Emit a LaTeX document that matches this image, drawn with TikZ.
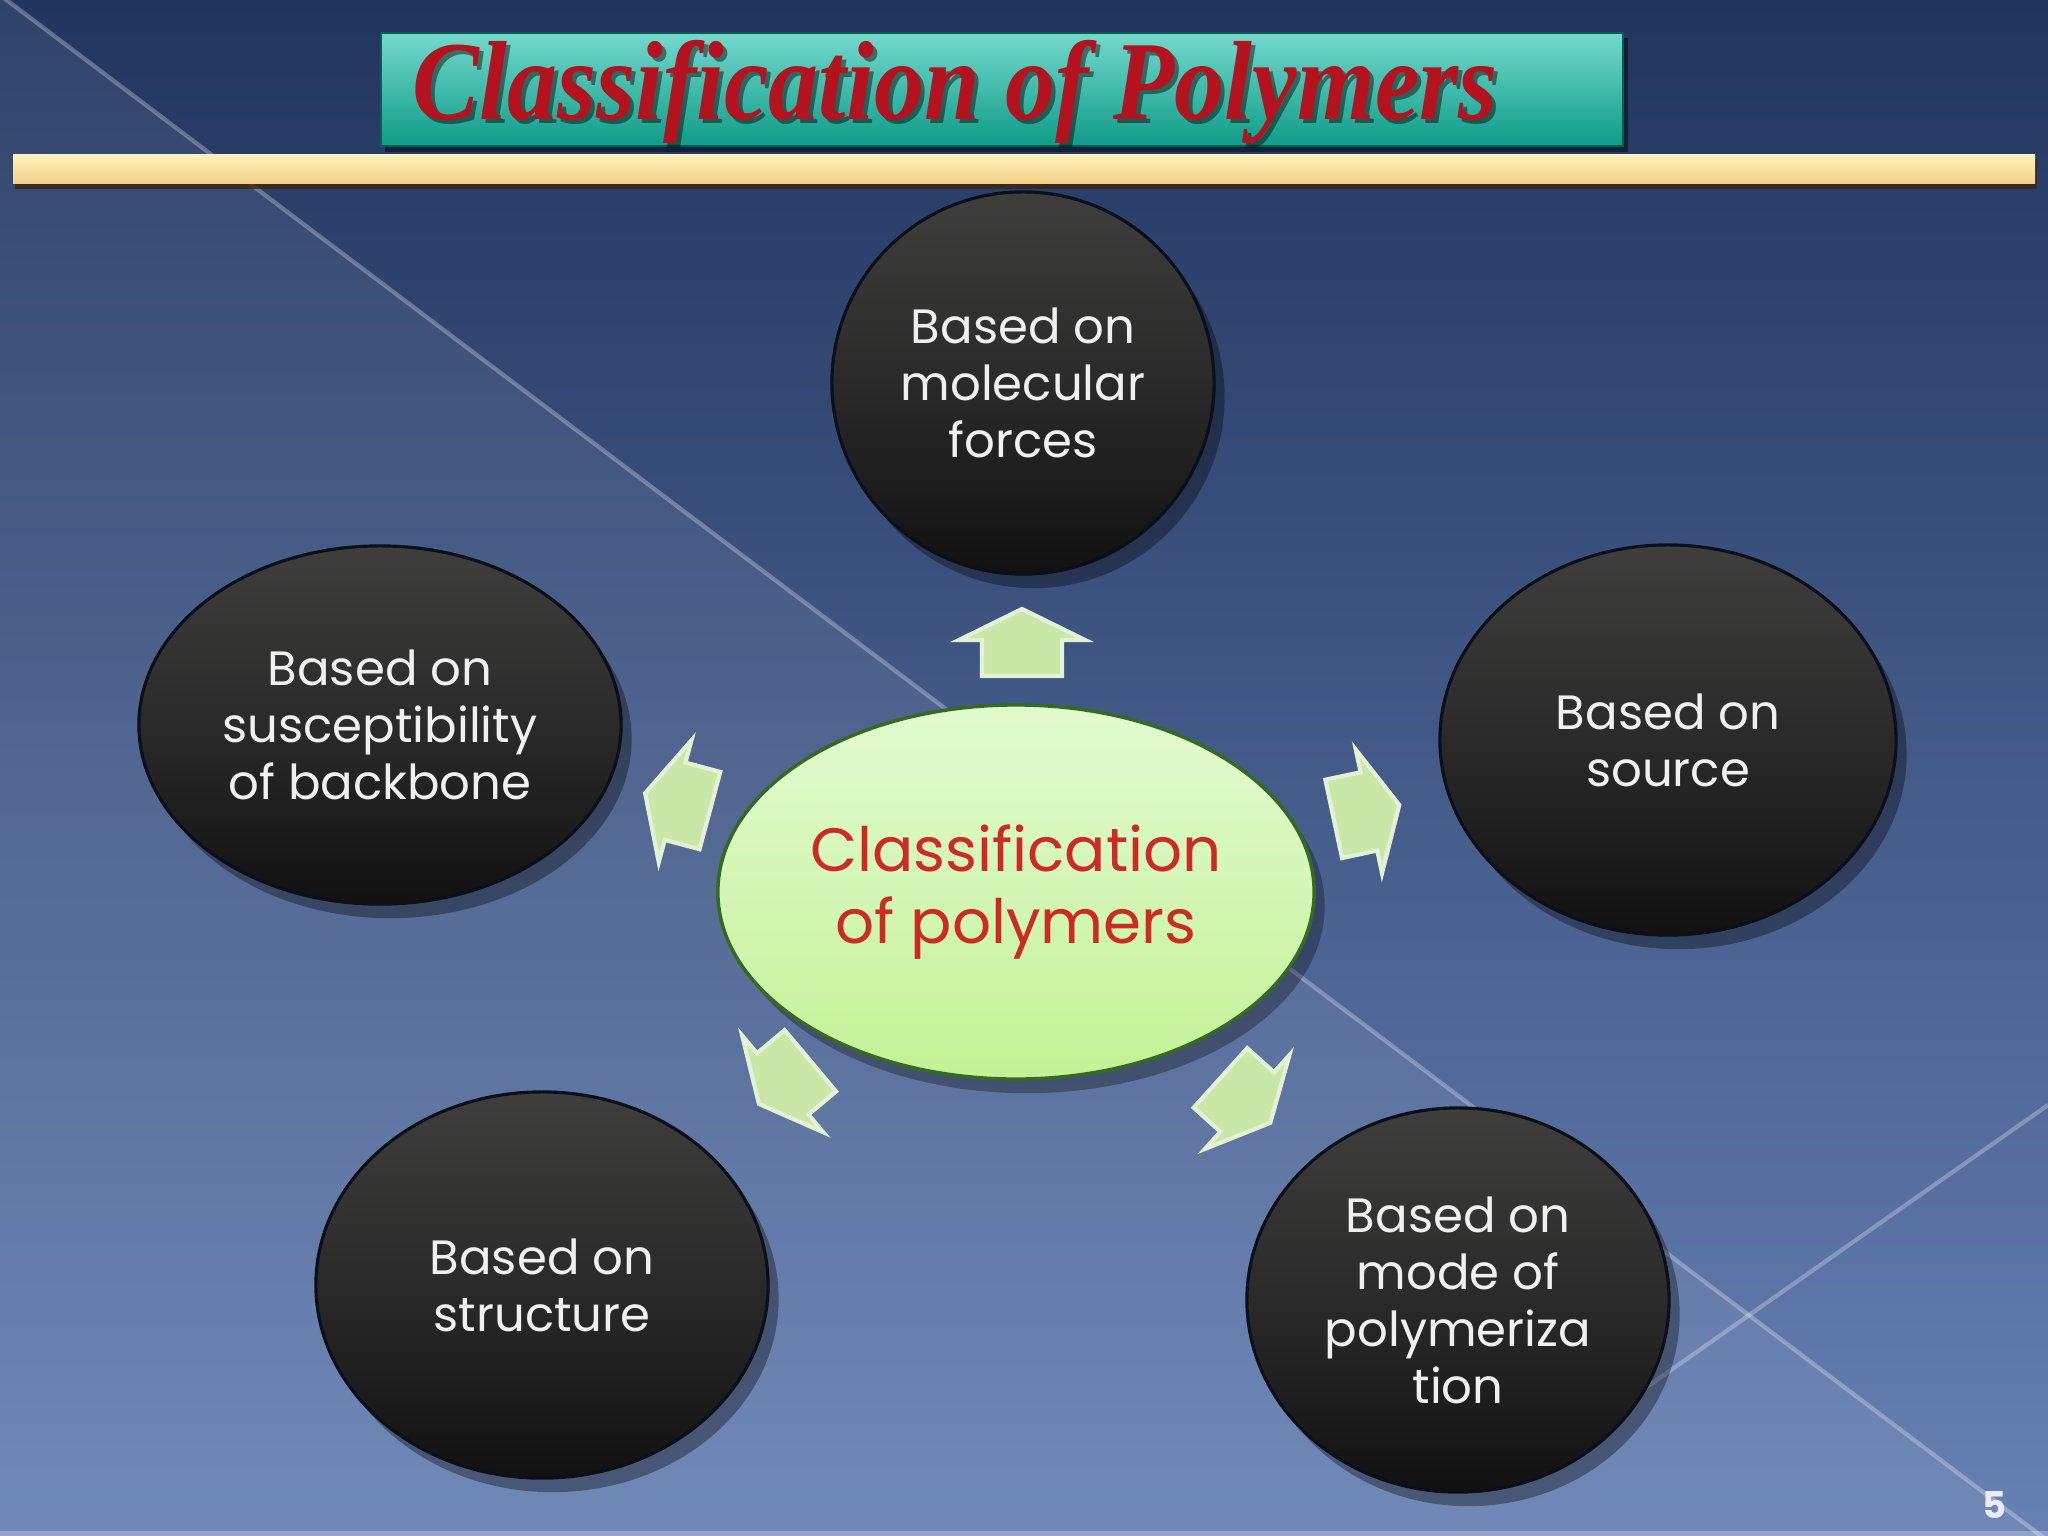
\documentclass[tikz,border=0pt]{standalone}
\usepackage{fontspec}
\setmainfont{Poppins}
\newfontfamily\titlefont{Liberation Serif}
\usetikzlibrary{shapes.geometric,shadows}
\definecolor{bgtop}{HTML}{21355E}
\definecolor{bgmid}{HTML}{33507F}
\definecolor{bgbot}{HTML}{6681B3}
\definecolor{ball0}{HTML}{050505}
\definecolor{ball1}{HTML}{111111}
\definecolor{ball2}{HTML}{2A2A2A}
\definecolor{ball3}{HTML}{3E3E3D}
\definecolor{ball4}{HTML}{6A6967}
\definecolor{ballline}{HTML}{0B1018}
\definecolor{g1}{HTML}{E9FCDA}
\definecolor{g2}{HTML}{DDF9C6}
\definecolor{g3}{HTML}{C6F39C}
\definecolor{g4}{HTML}{AEEC6E}
\definecolor{gline}{HTML}{356A26}
\definecolor{arrowfill}{HTML}{C9E7A6}
\definecolor{arrowrim}{HTML}{E2F2D4}
\definecolor{titlered}{HTML}{B3121E}
\definecolor{centrered}{HTML}{CC2A22}
\definecolor{tealtop}{HTML}{74D9CB}
\definecolor{tealbot}{HTML}{0E9C88}
\definecolor{barTop}{HTML}{FFF2C0}
\definecolor{barBot}{HTML}{F2D288}
\pgfdeclareverticalshading{ballshade}{100bp}{color(0bp)=(ball0); color(25bp)=(ball1); color(50bp)=(ball2); color(75bp)=(ball3); color(100bp)=(ball4)}
\pgfdeclareverticalshading{greenshade}{100bp}{color(0bp)=(g4); color(30bp)=(g3); color(65bp)=(g2); color(100bp)=(g1)}
\tikzset{
  ball/.style={ellipse, shading=ballshade, draw=ballline, line width=0.9pt,
    text=white!88!gray, align=center, inner sep=0pt,
    font=\fontsize{13.7}{16.2}\selectfont,
    drop shadow={shadow xshift=3pt, shadow yshift=-4pt, opacity=0.35, fill=black}},
  centre/.style={ellipse, shading=greenshade, draw=gline, line width=1pt,
    text=centrered, align=center, inner sep=0pt,
    font=\fontsize{17.4}{20.4}\selectfont,
    drop shadow={shadow xshift=3pt, shadow yshift=-4pt, opacity=0.3, fill=black}},
  arrowbody/.style={fill=arrowfill, draw=arrowrim, line width=1.2pt, line join=miter},
  blockarrow/.pic={\path[arrowbody] (-33,-40) -- (3,-40) -- (3,-63) -- (34,0) -- (3,63) -- (3,40) -- (-33,40) -- cycle;}
}
\begin{document}
\begin{tikzpicture}[x=0.01cm, y=-0.01cm]
\useasboundingbox (0,0) rectangle (2048,1536);
% background
\shade[top color=bgtop, middle color=bgmid, bottom color=bgbot] (0,0) rectangle (2048,1536);
\begin{scope}
\clip (0,0) rectangle (2048,1536);
\fill[white, opacity=0.07] (0,-5) -- (2048,1541) -- (0,1541) -- cycle;
\draw[white, opacity=0.28, line width=1.2pt] (0,-5) -- (2048,1541);
\draw[white, opacity=0.28, line width=1.2pt] (1560,1448) -- (2048,1105);
\draw[white, opacity=0.25, line width=1.5pt] (0,1534) -- (2048,1534);
\end{scope}
% title box
\fill[black, opacity=0.45] (385,38) rectangle (1628,152);
\shade[top color=tealtop, bottom color=tealbot, draw=tealbot!60!black, line width=0.6pt] (381,33) rectangle (1623,146);
\node[font=\titlefont\bfseries\itshape\fontsize{32}{36}\selectfont, text=black, opacity=0.45, anchor=base, xscale=0.89] (titleshadow) at (959,123) {Classification of Polymers};
\node[font=\titlefont\bfseries\itshape\fontsize{32}{36}\selectfont, text=titlered, anchor=base, xscale=0.89] (title) at (955,119) {Classification of Polymers};
% yellow bar
\fill[black!70!brown, opacity=0.8] (15,159) rectangle (2037,189);
\shade[top color=barTop, bottom color=barBot] (13,154) rectangle (2035,183);
% circles
\node[ball, minimum width=3.82cm, minimum height=3.82cm] (mol) at (1023,383) {Based on\\molecular\\forces};
\node[ball, minimum width=4.82cm, minimum height=3.58cm] (sus) at (380,725) {Based on\\susceptibility\\of backbone};
\node[ball, minimum width=4.56cm, minimum height=3.90cm] (src) at (1668,740) {Based on\\source};
\node[ball, minimum width=4.52cm, minimum height=3.86cm] (str) at (542,1285) {Based on\\structure};
\node[ball, minimum width=4.22cm, minimum height=3.84cm] (mode) at (1458,1300) {Based on\\mode of\\polymeriza\\tion};
\node[centre, minimum width=5.96cm, minimum height=3.74cm] (cls) at (1016,892) {Classification\\of polymers};
% block arrows
\pic[rotate=90] at (1022,643) {blockarrow};
\pic[rotate=165] at (678,802) {blockarrow};
\pic[rotate=12] at (1366,812) {blockarrow};
\pic[rotate=220] at (785,1082) {blockarrow};
\pic[rotate=-42] at (1245,1100) {blockarrow};
% page number
\node[font=\fontsize{10.5}{12}\selectfont\bfseries, text=white!92!blue] (page) at (1994,1505) {5};
\end{tikzpicture}
\end{document}
